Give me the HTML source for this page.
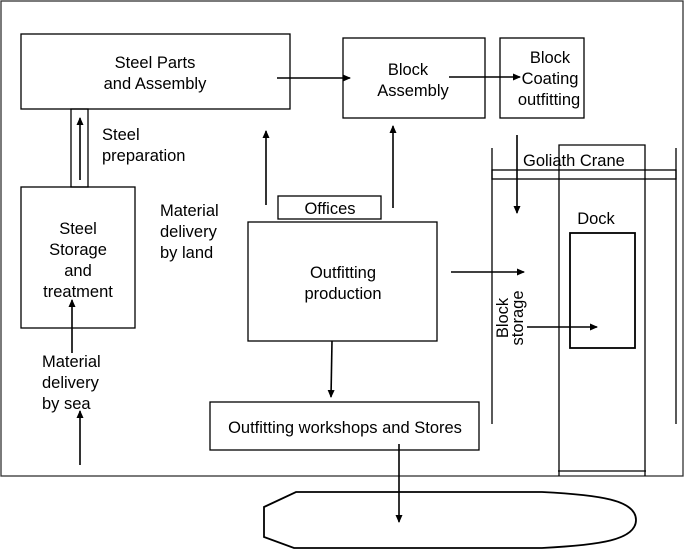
<!DOCTYPE html>
<html><head><meta charset="utf-8"><style>
html,body{margin:0;padding:0;background:#fff;width:685px;height:551px;overflow:hidden}
svg{display:block}
text{font-family:"Liberation Sans",Arial,sans-serif;font-size:16.5px;fill:#000}
</style></head><body>
<svg width="685" height="551" viewBox="0 0 685 551" xmlns="http://www.w3.org/2000/svg">
<defs>
<marker id="a" markerWidth="8" markerHeight="8" refX="7" refY="4" orient="auto" markerUnits="userSpaceOnUse">
<path d="M0,0.5 L8,4 L0,7.5 Z" fill="#000"/></marker>
</defs>
<g fill="none" stroke="#000" stroke-width="1.3">
<rect x="1" y="1" width="682" height="475" stroke="#333"/>
<rect x="21" y="34" width="269" height="75"/>
<rect x="71" y="109" width="17" height="78"/>
<rect x="21" y="187" width="114" height="141"/>
<rect x="343" y="38" width="142" height="80"/>
<rect x="500" y="38" width="84" height="80"/>
<rect x="278" y="196" width="103" height="23"/>
<rect x="248" y="222" width="189" height="119"/>
<rect x="210" y="402" width="269" height="48"/>
<line x1="492" y1="148" x2="492" y2="424"/>
<line x1="676" y1="148" x2="676" y2="424"/>
<rect x="492" y="170" width="184" height="9"/>
<polyline points="559,476 559,145 645,145 645,476"/>
<line x1="558" y1="471" x2="646" y2="471"/>
<rect x="570" y="233" width="65" height="115" stroke-width="1.8"/>
<path d="M296,492 L542,492 C600,495 636,500 636,520 C636,540 600,545 542,548 L294,548 L264,537 L264,507 Z" stroke-width="1.8"/>
</g>
<g stroke="#000" stroke-width="1.6" marker-end="url(#a)">
<line x1="277" y1="78" x2="350" y2="78"/>
<line x1="449" y1="77" x2="520" y2="77"/>
<line x1="80" y1="180" x2="80" y2="118"/>
<line x1="72" y1="353" x2="72" y2="300"/>
<line x1="80" y1="465" x2="80" y2="411"/>
<line x1="266" y1="205" x2="266" y2="131"/>
<line x1="393" y1="208" x2="393" y2="126"/>
<line x1="332" y1="341" x2="331" y2="397"/>
<line x1="399" y1="444" x2="399" y2="522"/>
<line x1="517" y1="135" x2="517" y2="213"/>
<line x1="451" y1="272" x2="524" y2="272"/>
<line x1="527" y1="327" x2="597" y2="327"/>
</g>
<g text-anchor="middle">
<text x="155" y="68">Steel Parts</text>
<text x="155" y="89">and Assembly</text>
<text x="408" y="75">Block</text>
<text x="413" y="96">Assembly</text>
<text x="550" y="63">Block</text>
<text x="550" y="84">Coating</text>
<text x="549" y="105">outfitting</text>
<text x="78" y="234">Steel</text>
<text x="78" y="255">Storage</text>
<text x="78" y="276">and</text>
<text x="78" y="297">treatment</text>
<text x="330" y="214">Offices</text>
<text x="343" y="278">Outfitting</text>
<text x="343" y="299">production</text>
<text x="345" y="433">Outfitting workshops and Stores</text>
<text x="596" y="224">Dock</text>
</g>
<text x="102" y="140">Steel</text>
<text x="102" y="161">preparation</text>
<text x="160" y="216">Material</text>
<text x="160" y="237">delivery</text>
<text x="160" y="258">by land</text>
<text x="42" y="367">Material</text>
<text x="42" y="388">delivery</text>
<text x="42" y="409">by sea</text>
<text x="523" y="166">Goliath Crane</text>
<text transform="translate(508,318) rotate(-90)" text-anchor="middle" font-size="15">Block</text>
<text transform="translate(523,318) rotate(-90)" text-anchor="middle" font-size="15">storage</text>
</svg>
</body></html>
